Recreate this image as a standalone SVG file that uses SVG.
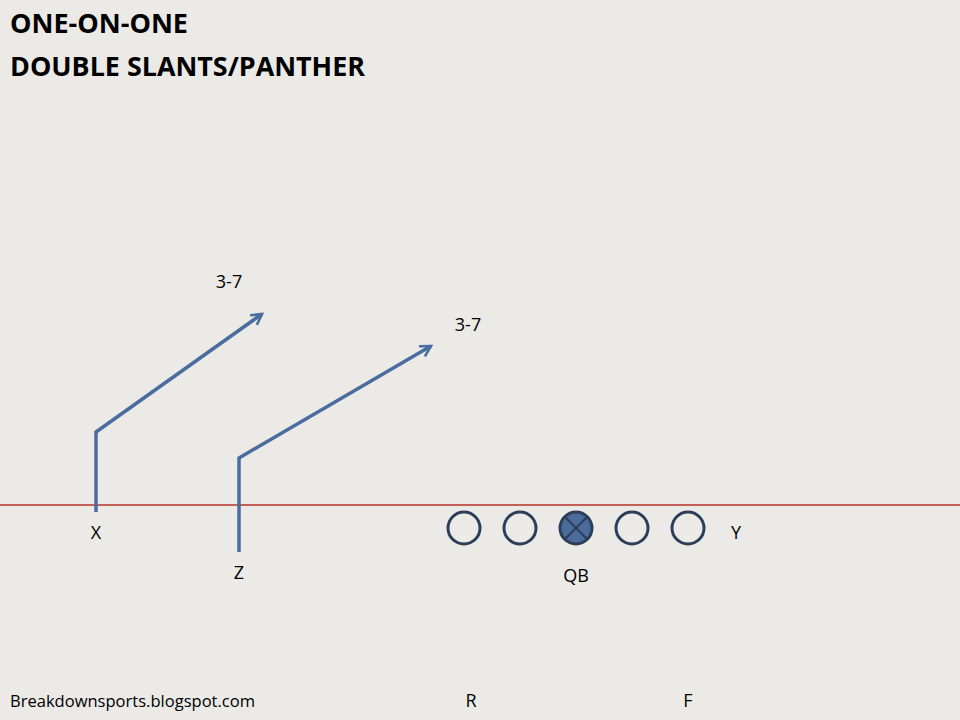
<svg xmlns="http://www.w3.org/2000/svg" width="960" height="720" viewBox="0 0 960 720">
<defs>
<style>
.t{font-family:"Open Sans","Liberation Sans",sans-serif;fill:#000}
.title{font-size:26px;font-weight:bold}
.lbl{font-size:18px;text-anchor:middle}
.route{fill:none;stroke:#4A6C9E;stroke-width:3.5;stroke-linejoin:miter}
.pl{fill:none;stroke:#2D3E58;stroke-width:3}
</style>
<marker id="arr" viewBox="0 0 12 12" refX="10" refY="6" markerWidth="4" markerHeight="4" orient="auto" markerUnits="strokeWidth">
<path d="M1,1 L10,6 L1,11" fill="none" stroke="#4A6C9E" stroke-width="2.2" stroke-linejoin="miter"/>
</marker>
</defs>
<rect width="960" height="720" fill="#ECEAE7"/>
<text class="t title" x="10" y="33" textLength="178" lengthAdjust="spacingAndGlyphs">ONE-ON-ONE</text>
<text class="t title" x="10" y="76" textLength="355" lengthAdjust="spacingAndGlyphs">DOUBLE SLANTS/PANTHER</text>
<line x1="0" y1="505" x2="960" y2="505" stroke="#B8322A" stroke-width="1.5"/>
<g id="connectors">
<polyline class="route" points="96,512 96,432 262,314" marker-end="url(#arr)"/>
<polyline class="route" points="239,552 239,458 431,346" marker-end="url(#arr)"/>
</g>
<g id="lineman1"><circle class="pl" cx="464" cy="528" r="16" fill="none"/></g>
<g id="lineman2"><circle class="pl" cx="520" cy="528" r="16" fill="none"/></g>
<g id="center"><circle cx="576" cy="528" r="16" fill="#4A6B9C" stroke="#2D3E58" stroke-width="3"/>
<line x1="564.7" y1="516.7" x2="587.3" y2="539.3" stroke="#2D3E58" stroke-width="2"/>
<line x1="587.3" y1="516.7" x2="564.7" y2="539.3" stroke="#2D3E58" stroke-width="2"/></g>
<g id="lineman4"><circle class="pl" cx="632" cy="528" r="16" fill="none"/></g>
<g id="lineman5"><circle class="pl" cx="688" cy="528" r="16" fill="none"/></g>
<g id="X"><text class="t lbl" x="96" y="539">X</text></g>
<g id="Z"><text class="t lbl" x="239" y="579">Z</text></g>
<g id="QB"><text class="t lbl" x="576" y="582">QB</text></g>
<g id="Y"><text class="t lbl" x="736" y="539">Y</text></g>
<g id="R"><text class="t lbl" x="471" y="707">R</text></g>
<g id="F"><text class="t lbl" x="688" y="707">F</text></g>
<g id="lbl1"><text class="t lbl" x="229" y="288">3-7</text></g>
<g id="lbl2"><text class="t lbl" x="468" y="331">3-7</text></g>
<text class="t" x="10" y="707" font-size="16" textLength="245" lengthAdjust="spacingAndGlyphs">Breakdownsports.blogspot.com</text>
</svg>
